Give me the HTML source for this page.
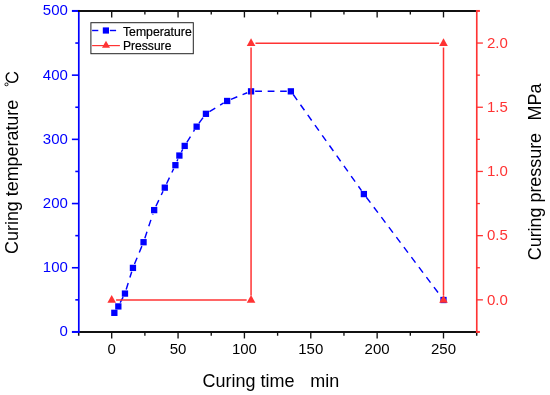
<!DOCTYPE html>
<html><head><meta charset="utf-8"><title>Curing curve</title>
<style>html,body{margin:0;padding:0;background:#fff;}svg{display:block;}text{font-family:"Liberation Sans","Noto Sans CJK SC",sans-serif;}</style></head><body>
<svg width="550" height="395" viewBox="0 0 550 395">
<rect width="550" height="395" fill="#fff"/>
<line x1="120.22" y1="302.63" x2="123.09" y2="297.07" stroke="#0000ff" stroke-width="1.45" stroke-dasharray="6.8 5.7"/>
<line x1="126.19" y1="289.51" x2="131.72" y2="271.67" stroke="#0000ff" stroke-width="1.45" stroke-dasharray="6.8 5.7"/>
<line x1="134.50" y1="263.96" x2="141.99" y2="245.86" stroke="#0000ff" stroke-width="1.45" stroke-dasharray="6.8 5.7"/>
<line x1="144.84" y1="238.18" x2="152.88" y2="213.86" stroke="#0000ff" stroke-width="1.45" stroke-dasharray="6.8 5.7"/>
<line x1="155.92" y1="206.26" x2="163.04" y2="191.21" stroke="#0000ff" stroke-width="1.45" stroke-dasharray="6.8 5.7"/>
<line x1="166.54" y1="183.79" x2="173.65" y2="168.74" stroke="#0000ff" stroke-width="1.45" stroke-dasharray="6.8 5.7"/>
<line x1="176.97" y1="161.24" x2="177.82" y2="159.19" stroke="#0000ff" stroke-width="1.45" stroke-dasharray="6.8 5.7"/>
<line x1="181.37" y1="151.81" x2="182.72" y2="149.36" stroke="#0000ff" stroke-width="1.45" stroke-dasharray="6.8 5.7"/>
<line x1="186.86" y1="142.29" x2="194.48" y2="129.99" stroke="#0000ff" stroke-width="1.45" stroke-dasharray="6.8 5.7"/>
<line x1="199.04" y1="123.19" x2="203.53" y2="116.99" stroke="#0000ff" stroke-width="1.45" stroke-dasharray="6.8 5.7"/>
<line x1="209.44" y1="111.55" x2="223.66" y2="102.95" stroke="#0000ff" stroke-width="1.45" stroke-dasharray="6.8 5.7"/>
<line x1="230.97" y1="99.30" x2="247.25" y2="92.73" stroke="#0000ff" stroke-width="1.45" stroke-dasharray="6.8 5.7"/>
<line x1="255.16" y1="91.20" x2="286.77" y2="91.20" stroke="#0000ff" stroke-width="1.45" stroke-dasharray="6.8 5.7"/>
<line x1="293.25" y1="94.54" x2="361.49" y2="190.58" stroke="#0000ff" stroke-width="1.45" stroke-dasharray="6.8 5.7"/>
<line x1="366.33" y1="197.20" x2="441.04" y2="296.57" stroke="#0000ff" stroke-width="1.45" stroke-dasharray="6.8 5.7"/>
<rect x="111.20" y="309.69" width="6.3" height="6.3" fill="#0000ff"/>
<rect x="115.19" y="303.27" width="6.3" height="6.3" fill="#0000ff"/>
<rect x="121.82" y="290.43" width="6.3" height="6.3" fill="#0000ff"/>
<rect x="129.79" y="264.75" width="6.3" height="6.3" fill="#0000ff"/>
<rect x="140.40" y="239.07" width="6.3" height="6.3" fill="#0000ff"/>
<rect x="151.02" y="206.97" width="6.3" height="6.3" fill="#0000ff"/>
<rect x="161.64" y="184.50" width="6.3" height="6.3" fill="#0000ff"/>
<rect x="172.26" y="162.03" width="6.3" height="6.3" fill="#0000ff"/>
<rect x="176.24" y="152.40" width="6.3" height="6.3" fill="#0000ff"/>
<rect x="181.55" y="142.77" width="6.3" height="6.3" fill="#0000ff"/>
<rect x="193.49" y="123.51" width="6.3" height="6.3" fill="#0000ff"/>
<rect x="202.78" y="110.67" width="6.3" height="6.3" fill="#0000ff"/>
<rect x="224.02" y="97.83" width="6.3" height="6.3" fill="#0000ff"/>
<rect x="247.91" y="88.20" width="6.3" height="6.3" fill="#0000ff"/>
<rect x="287.72" y="88.20" width="6.3" height="6.3" fill="#0000ff"/>
<rect x="360.72" y="190.92" width="6.3" height="6.3" fill="#0000ff"/>
<rect x="440.35" y="296.85" width="6.3" height="6.3" fill="#0000ff"/>
<line x1="116.10" y1="299.95" x2="246.66" y2="299.95" stroke="#ff3333" stroke-width="1.50" />
<line x1="251.06" y1="295.55" x2="251.06" y2="47.55" stroke="#ff3333" stroke-width="1.50" />
<line x1="255.46" y1="43.15" x2="439.10" y2="43.15" stroke="#ff3333" stroke-width="1.50" />
<line x1="443.50" y1="47.55" x2="443.50" y2="295.55" stroke="#ff3333" stroke-width="1.50" />
<polygon points="111.70,295.02 107.40,302.72 116.00,302.72" fill="#ff3333"/>
<polygon points="251.06,295.02 246.76,302.72 255.36,302.72" fill="#ff3333"/>
<polygon points="251.06,38.22 246.76,45.92 255.36,45.92" fill="#ff3333"/>
<polygon points="443.50,38.22 439.20,45.92 447.80,45.92" fill="#ff3333"/>
<polygon points="443.50,295.02 439.20,302.72 447.80,302.72" fill="#ff3333"/>
<line x1="77.95" y1="331.95" x2="477.60" y2="331.95" stroke="#111" stroke-width="2.00" />
<line x1="78.70" y1="331.95" x2="78.70" y2="335.75" stroke="#111" stroke-width="1.50" />
<line x1="111.70" y1="331.95" x2="111.70" y2="338.45" stroke="#111" stroke-width="1.35" />
<text transform="translate(111.70,353.9)" font-size="15" text-anchor="middle" fill="#000">0</text>
<line x1="144.88" y1="331.95" x2="144.88" y2="335.75" stroke="#111" stroke-width="1.35" />
<line x1="178.06" y1="331.95" x2="178.06" y2="338.45" stroke="#111" stroke-width="1.35" />
<text transform="translate(178.06,353.9)" font-size="15" text-anchor="middle" fill="#000">50</text>
<line x1="211.24" y1="331.95" x2="211.24" y2="335.75" stroke="#111" stroke-width="1.35" />
<line x1="244.42" y1="331.95" x2="244.42" y2="338.45" stroke="#111" stroke-width="1.35" />
<text transform="translate(244.42,353.9)" font-size="15" text-anchor="middle" fill="#000">100</text>
<line x1="277.60" y1="331.95" x2="277.60" y2="335.75" stroke="#111" stroke-width="1.35" />
<line x1="310.78" y1="331.95" x2="310.78" y2="338.45" stroke="#111" stroke-width="1.35" />
<text transform="translate(310.78,353.9)" font-size="15" text-anchor="middle" fill="#000">150</text>
<line x1="343.96" y1="331.95" x2="343.96" y2="335.75" stroke="#111" stroke-width="1.35" />
<line x1="377.14" y1="331.95" x2="377.14" y2="338.45" stroke="#111" stroke-width="1.35" />
<text transform="translate(377.14,353.9)" font-size="15" text-anchor="middle" fill="#000">200</text>
<line x1="410.32" y1="331.95" x2="410.32" y2="335.75" stroke="#111" stroke-width="1.35" />
<line x1="443.50" y1="331.95" x2="443.50" y2="338.45" stroke="#111" stroke-width="1.35" />
<text transform="translate(443.50,353.9)" font-size="15" text-anchor="middle" fill="#000">250</text>
<line x1="476.70" y1="331.95" x2="476.70" y2="335.75" stroke="#111" stroke-width="1.50" />
<line x1="78.80" y1="11.95" x2="78.80" y2="332.95" stroke="#0000ff" stroke-width="1.70" />
<line x1="71.90" y1="331.95" x2="79.65" y2="331.95" stroke="#0000ff" stroke-width="2.00" />
<text transform="translate(67.9,336.45)" font-size="15" text-anchor="end" fill="#0000ff">0</text>
<line x1="75.30" y1="299.85" x2="78.80" y2="299.85" stroke="#0000ff" stroke-width="1.60" />
<line x1="71.90" y1="267.75" x2="78.80" y2="267.75" stroke="#0000ff" stroke-width="1.60" />
<text transform="translate(67.9,272.25)" font-size="15" text-anchor="end" fill="#0000ff">100</text>
<line x1="75.30" y1="235.65" x2="78.80" y2="235.65" stroke="#0000ff" stroke-width="1.60" />
<line x1="71.90" y1="203.55" x2="78.80" y2="203.55" stroke="#0000ff" stroke-width="1.60" />
<text transform="translate(67.9,208.05)" font-size="15" text-anchor="end" fill="#0000ff">200</text>
<line x1="75.30" y1="171.45" x2="78.80" y2="171.45" stroke="#0000ff" stroke-width="1.60" />
<line x1="71.90" y1="139.35" x2="78.80" y2="139.35" stroke="#0000ff" stroke-width="1.60" />
<text transform="translate(67.9,143.85)" font-size="15" text-anchor="end" fill="#0000ff">300</text>
<line x1="75.30" y1="107.25" x2="78.80" y2="107.25" stroke="#0000ff" stroke-width="1.60" />
<line x1="71.90" y1="75.15" x2="78.80" y2="75.15" stroke="#0000ff" stroke-width="1.60" />
<text transform="translate(67.9,79.65)" font-size="15" text-anchor="end" fill="#0000ff">400</text>
<line x1="75.30" y1="43.05" x2="78.80" y2="43.05" stroke="#0000ff" stroke-width="1.60" />
<line x1="71.90" y1="10.95" x2="79.65" y2="10.95" stroke="#0000ff" stroke-width="2.00" />
<text transform="translate(67.9,15.05)" font-size="15" text-anchor="end" fill="#0000ff">500</text>
<line x1="476.77" y1="9.95" x2="476.77" y2="332.95" stroke="#ff3333" stroke-width="1.65" />
<line x1="475.95" y1="331.95" x2="479.90" y2="331.95" stroke="#ff3333" stroke-width="2.00" />
<line x1="476.90" y1="299.85" x2="482.90" y2="299.85" stroke="#ff3333" stroke-width="1.30" />
<text transform="translate(487.0,304.65)" font-size="15" fill="#ff3333">0.0</text>
<line x1="476.90" y1="267.75" x2="479.90" y2="267.75" stroke="#ff3333" stroke-width="1.30" />
<line x1="476.90" y1="235.65" x2="482.90" y2="235.65" stroke="#ff3333" stroke-width="1.30" />
<text transform="translate(487.0,240.45)" font-size="15" fill="#ff3333">0.5</text>
<line x1="476.90" y1="203.55" x2="479.90" y2="203.55" stroke="#ff3333" stroke-width="1.30" />
<line x1="476.90" y1="171.45" x2="482.90" y2="171.45" stroke="#ff3333" stroke-width="1.30" />
<text transform="translate(487.0,176.25)" font-size="15" fill="#ff3333">1.0</text>
<line x1="476.90" y1="139.35" x2="479.90" y2="139.35" stroke="#ff3333" stroke-width="1.30" />
<line x1="476.90" y1="107.25" x2="482.90" y2="107.25" stroke="#ff3333" stroke-width="1.30" />
<text transform="translate(487.0,112.05)" font-size="15" fill="#ff3333">1.5</text>
<line x1="476.90" y1="75.15" x2="479.90" y2="75.15" stroke="#ff3333" stroke-width="1.30" />
<line x1="476.90" y1="43.05" x2="482.90" y2="43.05" stroke="#ff3333" stroke-width="1.30" />
<text transform="translate(487.0,47.85)" font-size="15" fill="#ff3333">2.0</text>
<line x1="475.95" y1="10.95" x2="479.90" y2="10.95" stroke="#ff3333" stroke-width="2.00" />
<line x1="77.95" y1="10.95" x2="475.95" y2="10.95" stroke="#111" stroke-width="2.00" />
<line x1="111.70" y1="10.95" x2="111.70" y2="17.45" stroke="#111" stroke-width="1.35" />
<line x1="144.88" y1="10.95" x2="144.88" y2="14.45" stroke="#111" stroke-width="1.35" />
<line x1="178.06" y1="10.95" x2="178.06" y2="17.45" stroke="#111" stroke-width="1.35" />
<line x1="211.24" y1="10.95" x2="211.24" y2="14.45" stroke="#111" stroke-width="1.35" />
<line x1="244.42" y1="10.95" x2="244.42" y2="17.45" stroke="#111" stroke-width="1.35" />
<line x1="277.60" y1="10.95" x2="277.60" y2="14.45" stroke="#111" stroke-width="1.35" />
<line x1="310.78" y1="10.95" x2="310.78" y2="17.45" stroke="#111" stroke-width="1.35" />
<line x1="343.96" y1="10.95" x2="343.96" y2="14.45" stroke="#111" stroke-width="1.35" />
<line x1="377.14" y1="10.95" x2="377.14" y2="17.45" stroke="#111" stroke-width="1.35" />
<line x1="410.32" y1="10.95" x2="410.32" y2="14.45" stroke="#111" stroke-width="1.35" />
<line x1="443.50" y1="10.95" x2="443.50" y2="17.45" stroke="#111" stroke-width="1.35" />
<text transform="translate(202.6,387.3) scale(1,1.04)" font-size="18" fill="#000">Curing time</text>
<text transform="translate(310.3,387.3) scale(1,1.04)" font-size="18" fill="#000">min</text>
<text transform="translate(17.5,253.9) rotate(-90) scale(1,1.04)" font-size="17.9" fill="#000">Curing temperature</text>
<text transform="translate(19.3,87.3) rotate(-90)" font-size="17.5" style="font-family:'Liberation Sans',IPAGothic,'Noto Sans CJK JP',sans-serif" fill="#000">℃</text>
<text transform="translate(541.4,260.2) rotate(-90) scale(1,1.04)" font-size="17.9" fill="#000">Curing pressure</text>
<text transform="translate(541.4,120.6) rotate(-90) scale(1,1.04)" font-size="18" fill="#000">MPa</text>
<rect x="90.9" y="22.7" width="102.4" height="31.0" fill="#fff" stroke="#222" stroke-width="1"/>
<line x1="92.10" y1="30.50" x2="98.30" y2="30.50" stroke="#0000ff" stroke-width="1.40" />
<line x1="109.90" y1="30.50" x2="116.10" y2="30.50" stroke="#0000ff" stroke-width="1.40" />
<rect x="102.8" y="27.4" width="6.2" height="6.2" fill="#0000ff"/>
<line x1="92.10" y1="45.60" x2="119.90" y2="45.60" stroke="#ff3333" stroke-width="1.20" />
<polygon points="106,40.7 102.0,47.7 110.0,47.7" fill="#ff3333"/>
<text transform="translate(123,35.6) scale(1,1.05)" font-size="12.25" fill="#000" stroke="#000" stroke-width="0.2">Temperature</text>
<text transform="translate(123,50.3) scale(1,1.05)" font-size="12.1" fill="#000" stroke="#000" stroke-width="0.2">Pressure</text>
</svg></body></html>
